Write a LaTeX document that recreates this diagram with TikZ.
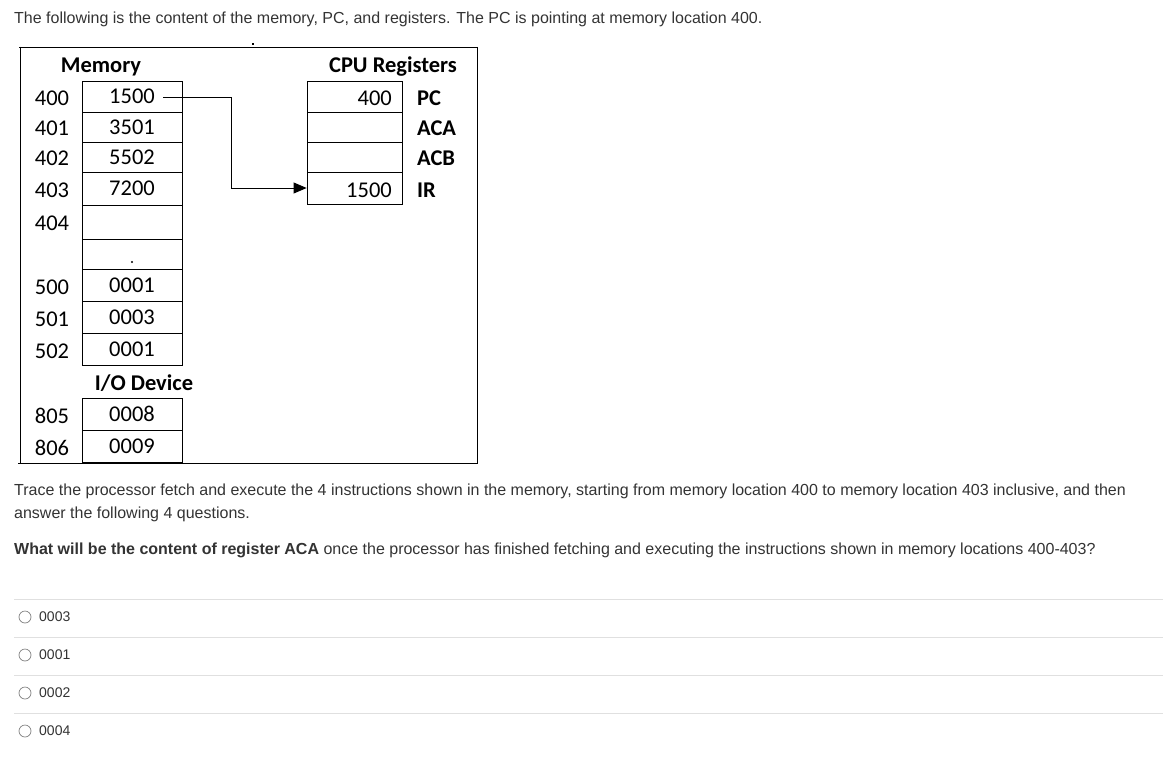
\documentclass[tikz,border=0pt]{standalone}
\usepackage{fontspec}
\setmainfont{Liberation Sans}
\newfontfamily\calfnt{Carlito}
\usetikzlibrary{arrows.meta}
\definecolor{txt}{HTML}{333333}
\definecolor{sep}{HTML}{E0E0E0}
\begin{document}
\begin{tikzpicture}[x=1pt,y=-1pt,
  cell/.style={draw,line width=0.8pt,minimum width=100pt,minimum height=31pt,inner sep=0pt,font=\calfnt\fontsize{22.5}{22.5}\selectfont},
  reg/.style={draw,line width=0.8pt,minimum width=95pt,minimum height=31pt,inner sep=0pt},
  lab/.style={font=\calfnt\fontsize{22.5}{22.5}\selectfont,inner sep=0pt},
  blab/.style={font=\calfnt\bfseries\fontsize{22.5}{22.5}\selectfont,inner sep=0pt},
  para/.style={anchor=west,inner sep=0pt,text=txt,font=\fontsize{16}{18}\selectfont},
  opt/.style={anchor=west,inner sep=0pt,text=txt,font=\fontsize{14}{16}\selectfont}]
\useasboundingbox (0,0) rectangle (1164,760);
\node[para] (t1) at (14,19) {The following is the content of the memory, PC, and registers. The PC is pointing at memory location 400.};
% frame
\draw[line width=0.8pt] (19,47) -- (478,47) (20,47) -- (20,463) (477,47) -- (477,463) (18,463) -- (478,463);
\fill (252,43) rectangle (254,45);
\node[blab] (memt) at (101,67) {Memory};
\node[blab] (cput) at (393,67) {CPU Registers};
% memory cells
\foreach \n/\ya/\yb/\v in {m400/81/112/1500,m401/112/142/3501,m402/142/172/5502,m403/172/205/7200,m404/205/239/{},mdot/239/269/{},m500/269/301/0001,m501/301/333/0003,m502/333/365/0001,m805/398/430/0008,m806/430/462/0009}{
  \node[cell,minimum height={\yb-\ya}] (\n) at (132,{(\ya+\yb)/2}) {\v};
}
\fill (132,262) circle (1.1);
\foreach \n/\y/\t in {a400/98/400,a401/128/401,a402/158/402,a403/190/403,a404/223/404,a500/287/500,a501/319/501,a502/351/502,a805/416/805,a806/448/806}{
  \node[lab] (\n) at (52,\y) {\t};
}
\node[blab] (iot) at (144,383) {I/O Device};
% registers
\foreach \n/\ya/\yb in {pc/81/112,aca/112/142,acb/142/172,ir/172/204}{
  \node[reg,minimum height={\yb-\ya}] (\n) at (354.5,{(\ya+\yb)/2}) {};
}
\node[lab,anchor=east] (pcv) at (392,98) {400};
\node[lab,anchor=east] (irv) at (392,190) {1500};
\foreach \n/\y/\t in {pcn/98/PC,acan/128/ACA,acbn/158/ACB,irn/190/IR}{
  \node[blab,anchor=west] (\n) at (417,\y) {\t};
}
\coordinate (s) at (163,97);
\coordinate (k) at (231,97);
\draw[line width=0.8pt,-{Triangle[length=13pt,width=11pt]}] (s) -- (k) |- (ir.west);
% bottom text
\node[para] (t2) at (14,491) {Trace the processor fetch and execute the 4 instructions shown in the memory, starting from memory location 400 to memory location 403 inclusive, and then};
\node[para] (t3) at (14,514) {answer the following 4 questions.};
\node[para] (t4) at (14,550) {\textbf{What will be the content of register ACA} once the processor has finished fetching and executing the instructions shown in memory locations 400-403?};
\foreach \y in {599,637,675,713}{\draw[sep] (14,\y) -- (1163,\y);}
\foreach \n/\y/\t in {o1/617/0003,o2/655/0001,o3/693/0002,o4/731/0004}{
  \draw[gray,line width=0.7pt] (25,\y) circle (6);
  \node[opt] (\n) at (39,\y) {\t};
}
\end{tikzpicture}
\end{document}
